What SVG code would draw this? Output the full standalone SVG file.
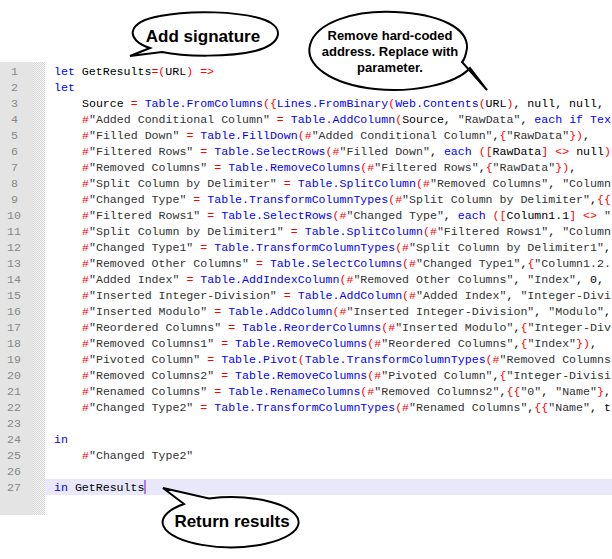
<svg xmlns="http://www.w3.org/2000/svg" width="612" height="559" viewBox="0 0 612 559">
<defs>
<pattern id="dots" width="2" height="2" patternUnits="userSpaceOnUse"><rect width="2" height="2" fill="#f4f4f4"/><rect width="1" height="1" fill="#d8d8d8"/><rect x="1" y="1" width="1" height="1" fill="#d8d8d8"/></pattern>
</defs>
<style>
.code{font-family:"Liberation Mono",monospace;font-size:11.6px;fill:#000;white-space:pre}
.num{font-family:"Liberation Mono",monospace;font-size:11.6px;fill:#888}
.k{fill:#0000ff}.f{fill:#0000ff}.o{fill:#ff0000}.s{fill:#333}
.bub{fill:#fff;stroke:#000;stroke-width:2}
.bt{font-family:"Liberation Sans",Arial,sans-serif;font-weight:bold;fill:#000;text-anchor:middle}
</style>
<rect width="612" height="559" fill="#fff"/>
<g id="editor">
<rect x="0" y="62" width="33" height="453" fill="#e4e4e4"/>
<rect x="33" y="62" width="12" height="453" fill="url(#dots)"/>
<rect x="45" y="479" width="567" height="16" fill="#e8e8fa"/>
<line x1="145" y1="480" x2="145" y2="494" stroke="#8000ff" stroke-width="1"/>
<g class="num">
<text x="11" y="75">1</text><text x="11" y="91">2</text><text x="11" y="107">3</text><text x="11" y="123">4</text><text x="11" y="139">5</text><text x="11" y="155">6</text><text x="11" y="171">7</text><text x="11" y="187">8</text><text x="11" y="203">9</text>
<text x="7" y="219">10</text><text x="7" y="235">11</text><text x="7" y="251">12</text><text x="7" y="267">13</text><text x="7" y="283">14</text><text x="7" y="299">15</text><text x="7" y="315">16</text><text x="7" y="331">17</text><text x="7" y="347">18</text><text x="7" y="363">19</text><text x="7" y="379">20</text><text x="7" y="395">21</text><text x="7" y="411">22</text><text x="7" y="427">23</text><text x="7" y="443">24</text><text x="7" y="459">25</text><text x="7" y="475">26</text><text x="7" y="491">27</text>
</g>
<g class="code" xml:space="preserve">
<text x="54" y="75"><tspan class="k">let</tspan> GetResults<tspan class="o">=(</tspan>URL<tspan class="o">)</tspan> <tspan class="o">=&gt;</tspan></text>
<text x="54" y="91"><tspan class="k">let</tspan></text>
<text x="82" y="107">Source <tspan class="o">=</tspan> <tspan class="f">Table.FromColumns</tspan><tspan class="o">({</tspan><tspan class="f">Lines.FromBinary</tspan><tspan class="o">(</tspan><tspan class="f">Web.Contents</tspan><tspan class="o">(</tspan>URL<tspan class="o">)</tspan>, null, null,</text>
<text x="82" y="123"><tspan class="o">#</tspan><tspan class="s">"Added Conditional Column"</tspan> <tspan class="o">=</tspan> <tspan class="f">Table.AddColumn</tspan><tspan class="o">(</tspan>Source, <tspan class="s">"RawData"</tspan>, <tspan class="k">each if Tex</tspan></text>
<text x="82" y="139"><tspan class="o">#</tspan><tspan class="s">"Filled Down"</tspan> <tspan class="o">=</tspan> <tspan class="f">Table.FillDown</tspan><tspan class="o">(#</tspan><tspan class="s">"Added Conditional Column"</tspan>,<tspan class="o">{</tspan><tspan class="s">"RawData"</tspan><tspan class="o">})</tspan>,</text>
<text x="82" y="155"><tspan class="o">#</tspan><tspan class="s">"Filtered Rows"</tspan> <tspan class="o">=</tspan> <tspan class="f">Table.SelectRows</tspan><tspan class="o">(#</tspan><tspan class="s">"Filled Down"</tspan>, <tspan class="k">each</tspan> <tspan class="o">([</tspan>RawData<tspan class="o">]</tspan> <tspan class="o">&lt;&gt;</tspan> null<tspan class="o">)</tspan></text>
<text x="82" y="171"><tspan class="o">#</tspan><tspan class="s">"Removed Columns"</tspan> <tspan class="o">=</tspan> <tspan class="f">Table.RemoveColumns</tspan><tspan class="o">(#</tspan><tspan class="s">"Filtered Rows"</tspan>,<tspan class="o">{</tspan><tspan class="s">"RawData"</tspan><tspan class="o">})</tspan>,</text>
<text x="82" y="187"><tspan class="o">#</tspan><tspan class="s">"Split Column by Delimiter"</tspan> <tspan class="o">=</tspan> <tspan class="f">Table.SplitColumn</tspan><tspan class="o">(#</tspan><tspan class="s">"Removed Columns"</tspan>, <tspan class="s">"Column</tspan></text>
<text x="82" y="203"><tspan class="o">#</tspan><tspan class="s">"Changed Type"</tspan> <tspan class="o">=</tspan> <tspan class="f">Table.TransformColumnTypes</tspan><tspan class="o">(#</tspan><tspan class="s">"Split Column by Delimiter"</tspan>,<tspan class="o">{{</tspan></text>
<text x="82" y="219"><tspan class="o">#</tspan><tspan class="s">"Filtered Rows1"</tspan> <tspan class="o">=</tspan> <tspan class="f">Table.SelectRows</tspan><tspan class="o">(#</tspan><tspan class="s">"Changed Type"</tspan>, <tspan class="k">each</tspan> <tspan class="o">([</tspan>Column1.1<tspan class="o">]</tspan> <tspan class="o">&lt;&gt;</tspan> <tspan class="s">"</tspan></text>
<text x="82" y="235"><tspan class="o">#</tspan><tspan class="s">"Split Column by Delimiter1"</tspan> <tspan class="o">=</tspan> <tspan class="f">Table.SplitColumn</tspan><tspan class="o">(#</tspan><tspan class="s">"Filtered Rows1"</tspan>, <tspan class="s">"Column</tspan></text>
<text x="82" y="251"><tspan class="o">#</tspan><tspan class="s">"Changed Type1"</tspan> <tspan class="o">=</tspan> <tspan class="f">Table.TransformColumnTypes</tspan><tspan class="o">(#</tspan><tspan class="s">"Split Column by Delimiter1"</tspan>,</text>
<text x="82" y="267"><tspan class="o">#</tspan><tspan class="s">"Removed Other Columns"</tspan> <tspan class="o">=</tspan> <tspan class="f">Table.SelectColumns</tspan><tspan class="o">(#</tspan><tspan class="s">"Changed Type1"</tspan>,<tspan class="o">{</tspan><tspan class="s">"Column1.2.</tspan></text>
<text x="82" y="283"><tspan class="o">#</tspan><tspan class="s">"Added Index"</tspan> <tspan class="o">=</tspan> <tspan class="f">Table.AddIndexColumn</tspan><tspan class="o">(#</tspan><tspan class="s">"Removed Other Columns"</tspan>, <tspan class="s">"Index"</tspan>, 0,</text>
<text x="82" y="299"><tspan class="o">#</tspan><tspan class="s">"Inserted Integer-Division"</tspan> <tspan class="o">=</tspan> <tspan class="f">Table.AddColumn</tspan><tspan class="o">(#</tspan><tspan class="s">"Added Index"</tspan>, <tspan class="s">"Integer-Divi</tspan></text>
<text x="82" y="315"><tspan class="o">#</tspan><tspan class="s">"Inserted Modulo"</tspan> <tspan class="o">=</tspan> <tspan class="f">Table.AddColumn</tspan><tspan class="o">(#</tspan><tspan class="s">"Inserted Integer-Division"</tspan>, <tspan class="s">"Modulo"</tspan>,</text>
<text x="82" y="331"><tspan class="o">#</tspan><tspan class="s">"Reordered Columns"</tspan> <tspan class="o">=</tspan> <tspan class="f">Table.ReorderColumns</tspan><tspan class="o">(#</tspan><tspan class="s">"Inserted Modulo"</tspan>,<tspan class="o">{</tspan><tspan class="s">"Integer-Div</tspan></text>
<text x="82" y="347"><tspan class="o">#</tspan><tspan class="s">"Removed Columns1"</tspan> <tspan class="o">=</tspan> <tspan class="f">Table.RemoveColumns</tspan><tspan class="o">(#</tspan><tspan class="s">"Reordered Columns"</tspan>,<tspan class="o">{</tspan><tspan class="s">"Index"</tspan><tspan class="o">})</tspan>,</text>
<text x="82" y="363"><tspan class="o">#</tspan><tspan class="s">"Pivoted Column"</tspan> <tspan class="o">=</tspan> <tspan class="f">Table.Pivot</tspan><tspan class="o">(</tspan><tspan class="f">Table.TransformColumnTypes</tspan><tspan class="o">(#</tspan><tspan class="s">"Removed Columns</tspan></text>
<text x="82" y="379"><tspan class="o">#</tspan><tspan class="s">"Removed Columns2"</tspan> <tspan class="o">=</tspan> <tspan class="f">Table.RemoveColumns</tspan><tspan class="o">(#</tspan><tspan class="s">"Pivoted Column"</tspan>,<tspan class="o">{</tspan><tspan class="s">"Integer-Divisi</tspan></text>
<text x="82" y="395"><tspan class="o">#</tspan><tspan class="s">"Renamed Columns"</tspan> <tspan class="o">=</tspan> <tspan class="f">Table.RenameColumns</tspan><tspan class="o">(#</tspan><tspan class="s">"Removed Columns2"</tspan>,<tspan class="o">{{</tspan><tspan class="s">"0"</tspan>, <tspan class="s">"Name"</tspan><tspan class="o">}</tspan>,</text>
<text x="82" y="411"><tspan class="o">#</tspan><tspan class="s">"Changed Type2"</tspan> <tspan class="o">=</tspan> <tspan class="f">Table.TransformColumnTypes</tspan><tspan class="o">(#</tspan><tspan class="s">"Renamed Columns"</tspan>,<tspan class="o">{{</tspan><tspan class="s">"Name"</tspan>, t</text>
<text x="54" y="443"><tspan class="k">in</tspan></text>
<text x="82" y="459"><tspan class="o">#</tspan><tspan class="s">"Changed Type2"</tspan></text>
<text x="54" y="491"><tspan class="k">in</tspan> GetResults</text>
</g>
</g>
<g id="callout-signature">
<path class="bub" d="M150,48 C125,40 126,22 160,16 C190,10 240,11 265,20 C285,28 282,44 255,51 C230,57 185,57 162,52 L130,56 Z"/>
<text class="bt" x="203" y="42" font-size="17">Add signature</text>
</g>
<g id="callout-address">
<path class="bub" d="M470,68 C455,85 410,93 375,89 C330,84 305,65 310,45 C316,22 355,10 395,12 C440,14 468,28 467,48 C466,55 464,60 462,62 L487,90 Z"/>
<text class="bt" x="390" y="40" font-size="13">Remove hard-coded</text>
<text class="bt" x="390" y="56" font-size="13">address. Replace with</text>
<text class="bt" x="390" y="72" font-size="13">parameter.</text>
</g>
<g id="callout-return">
<path class="bub" d="M184,504 L163,488 L209,498.5 A68,25 0 1,1 184,504 Z"/>
<text class="bt" x="232" y="527" font-size="17">Return results</text>
</g>
</svg>
